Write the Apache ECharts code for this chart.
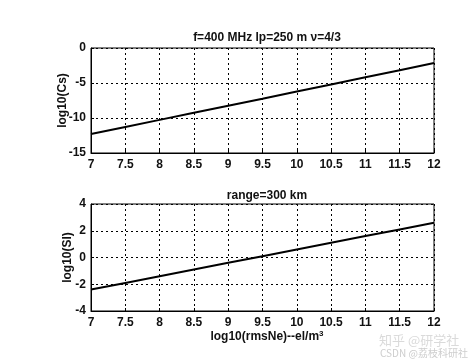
<!DOCTYPE html>
<html><head><meta charset="utf-8">
<script src="https://cdn.jsdelivr.net/npm/echarts@6/dist/echarts.min.js"></script>
<style>html,body{margin:0;padding:0;background:#fff}#c{width:474px;height:360px}</style>
</head><body><div id="c"></div>
<script>
var xValues = [7, 7.5, 8, 8.5, 9, 9.5, 10, 10.5, 11, 11.5, 12];
var csValues = [-12.3, -11.28, -10.27, -9.26, -8.25, -7.24, -6.22, -5.2, -4.19, -3.18, -2.15];
var siValues = [-2.4, -1.9, -1.4, -0.9, -0.4, 0.1, 0.6, 1.1, 1.6, 2.1, 2.6];
var xTicks = [7, 7.5, 8, 8.5, 9, 9.5, 10, 10.5, 11, 11.5, 12];
var topTitle = 'f=400 MHz lp=250 m \u03bd=4/3';
var bottomTitle = 'range=300 km';

var FONT = 'Liberation Sans, Arial, sans-serif';
var chart = echarts.init(document.getElementById('c'));
function pairs(ys){ return xValues.map(function(x,i){ return [x, ys[i]]; }); }
function xAxisCfg(gi){
  return {
    type:'value', gridIndex:gi, min:7, max:12, interval:0.5,
    axisLine:{show:true, onZero:false, lineStyle:{color:'#000', width:1}},
    axisTick:{show:true, inside:true, length:3, lineStyle:{color:'#000'}},
    axisLabel:{color:'#111', fontFamily:FONT, fontWeight:'bold', fontSize:12, margin:6,
      formatter:function(v){ return String(v); }},
    splitLine:{show:true, lineStyle:{color:'#000', type:[2,3], width:1}}
  };
}
function yAxisCfg(gi, min, max, interval, name, gap){
  return {
    type:'value', gridIndex:gi, min:min, max:max, interval:interval,
    name:name, nameLocation:'middle', nameGap:gap, nameRotate:90, nameMoveOverlap:false,
    nameTextStyle:{color:'#111', fontFamily:FONT, fontWeight:'bold', fontSize:12},
    axisLine:{show:true, onZero:false, lineStyle:{color:'#000', width:1}},
    axisTick:{show:true, inside:true, length:3, lineStyle:{color:'#000'}},
    axisLabel:{color:'#111', fontFamily:FONT, fontWeight:'bold', fontSize:12, margin:5},
    splitLine:{show:true, lineStyle:{color:'#000', type:[2,3], width:1}}
  };
}
chart.setOption({
  backgroundColor:'#fff',
  animation:false,
  title:[
    {text:topTitle, left:262, top:27, textAlign:'center',
      textStyle:{fontFamily:FONT, fontWeight:'bold', fontSize:12, color:'#111'}},
    {text:bottomTitle, left:262, top:185, textAlign:'center',
      textStyle:{fontFamily:FONT, fontWeight:'bold', fontSize:12, color:'#111'}},
    {text:'log10(rmsNe)--el/m{sup|3}', left:262, top:325, textAlign:'center',
      textStyle:{fontFamily:FONT, fontWeight:'bold', fontSize:12, color:'#111',
        rich:{sup:{fontFamily:FONT, fontWeight:'bold', fontSize:8, color:'#111', verticalAlign:'top', padding:[0,0,6,0]}}}},
    {text:'知乎 @研学社', left:374, top:329,
      textStyle:{fontFamily:'Noto Sans CJK SC', fontWeight:'normal', fontSize:13, color:'#dadada'}},
    {text:'CSDN @荔枝科研社', left:375, top:343,
      textStyle:{fontFamily:'Noto Sans CJK SC', fontWeight:'normal', fontSize:10, color:'#cdcdcd'}}
  ],
  grid:[
    {left:91, width:343, top:48, height:105, show:true, borderColor:'#000', borderWidth:1, backgroundColor:'#fff'},
    {left:91, width:343, top:204, height:107, show:true, borderColor:'#000', borderWidth:1, backgroundColor:'#fff'}
  ],
  xAxis:[xAxisCfg(0), xAxisCfg(1)],
  yAxis:[yAxisCfg(0,-15,0,5,'log10(Cs)',22), yAxisCfg(1,-4,4,2,'log10(SI)',17)],
  series:[
    {type:'line', xAxisIndex:0, yAxisIndex:0, data:pairs(csValues), showSymbol:false,
      lineStyle:{color:'#000', width:2}},
    {type:'line', xAxisIndex:1, yAxisIndex:1, data:pairs(siValues), showSymbol:false,
      lineStyle:{color:'#000', width:2}}
  ]
});
</script></body></html>
